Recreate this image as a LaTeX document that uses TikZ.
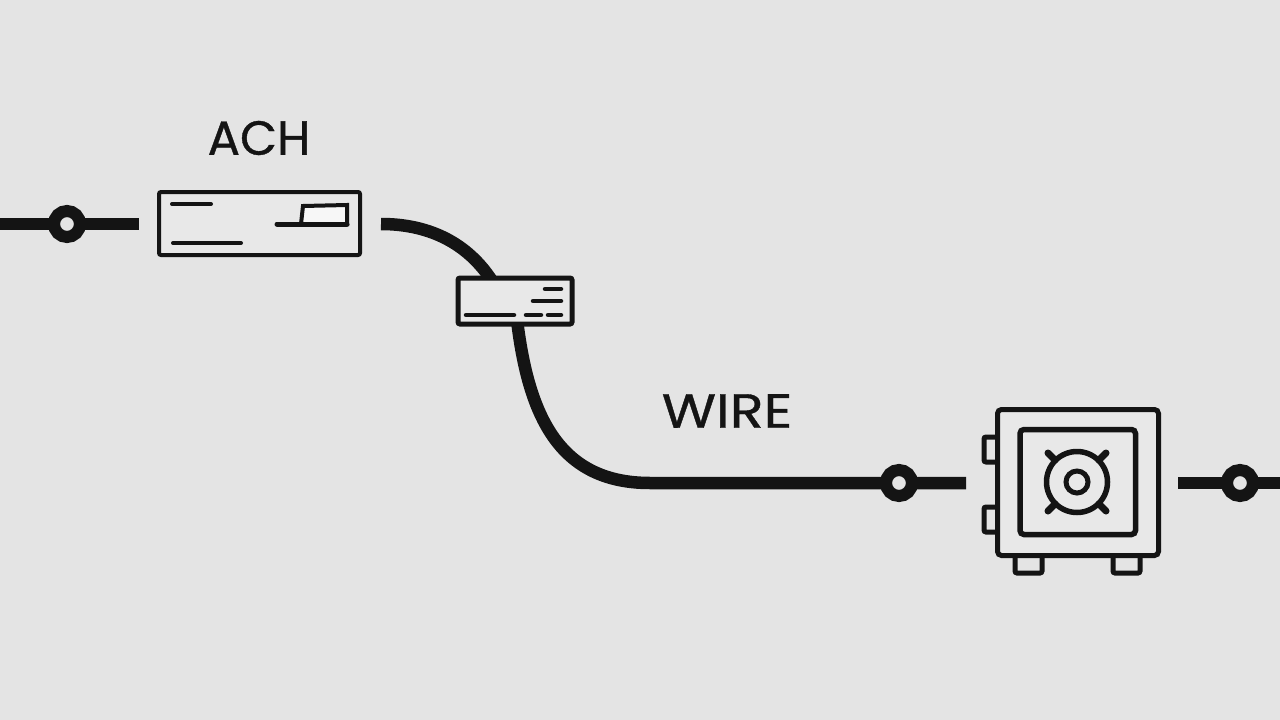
\documentclass[tikz,border=0pt]{standalone}
\usepackage{fontspec}
\setmainfont{Poppins}[FakeBold=0.8]
\newfontfamily\widefont{Poppins}[FakeBold=0.8,FakeStretch=1.16]
\usetikzlibrary{backgrounds}
\definecolor{paper}{HTML}{E4E4E4}
\definecolor{ink}{HTML}{141414}
\tikzset{
    wire/.style={draw=ink,line width=12.5pt},
    station/.style={circle,draw=ink,fill=paper,line width=12pt,minimum size=26pt,inner sep=0pt,outer sep=0pt},
    payslip/.style={rectangle,draw=ink,fill=paper!85!white,rounded corners=2pt,inner sep=0pt,outer sep=0pt},
    detail/.style={draw=ink,line width=4.5pt,line cap=round},
    outline/.style={draw=ink,line width=5pt,rounded corners=4pt},
    lab/.style={text=ink,inner sep=0pt,font=\fontsize{48}{48}\selectfont}
}
\begin{document}
\begin{tikzpicture}[x=1pt,y=-1pt]
    \useasboundingbox (0,0) rectangle (1280,720);

    % The labels
    \node [lab] (achlab) at (259,138) {ACH};
    \node [lab] (wirelab) at (727,411) {\widefont WIRE};

    % The two slips
    \node [payslip,line width=4pt,minimum width=201pt,minimum height=63pt] (achslip) at (259.5,223.5) {};
    \node [payslip,line width=5pt,minimum width=114pt,minimum height=46pt] (wireslip) at (515,301) {};

    % Stations on the line
    \foreach \n/\x/\y in {a/67/224, b/899/483, c/1240/483} {
        \node [station] (st\n) at (\x,\y) {};
    }

    \coordinate (safein) at (966,483);
    \coordinate (safeout) at (1178,483);
    \coordinate (achin) at (139,224);
    \coordinate (achout) at (381,224);
    \coordinate (slipin) at (494,284);
    \coordinate (bend) at (650,483);
    \coordinate (leftend) at (0,224);
    \coordinate (rightend) at (1280,483);

    % The line, piece by piece, under the nodes
    \begin{scope}[on background layer]
        \fill [paper] (0,0) rectangle (1280,720);
        \draw [wire] (leftend) -- (achin);
        \draw [wire] (achout) .. controls (425,224) and (467,240) .. (slipin);
        \draw [wire] (wireslip.center) .. controls (525,410) and (555,483) .. (bend) -- (safein);
        \draw [wire] (safeout) -- (rightend);
    \end{scope}

    % Lines on the large slip
    \draw [detail,line width=4pt] (172,204) -- (211,204);
    \draw [detail,line width=4pt] (173,243) -- (241,243);
    \draw [detail,line width=4pt,fill=paper!30!white,line cap=butt] (301,224) -- (303,206) -- (347,205) -- (347,224) -- cycle;
    \draw [detail,line width=5pt] (277,224) -- (347,224);

    % Lines on the small slip
    \foreach \xa/\xb/\y in {545/561/289, 533/561/301, 466/514/315, 526/541/315, 548/561/315} {
        \draw [detail] (\xa,\y) -- (\xb,\y);
    }

    % The safe, its door and its dial
    \draw [outline,fill=paper!85!white] (997.5,409.5) rectangle (1158.5,555.5);
    \draw [outline,line width=5.5pt] (1020,429.5) rectangle (1135.5,534.5);
    \foreach \sx/\sy in {1/1, 1/-1, -1/1, -1/-1} {
        \draw [draw=ink,line width=7pt,line cap=round] (1077+22*\sx,482+22*\sy) -- (1077+29*\sx,482+29*\sy);
    }
    \draw [draw=ink,line width=5.5pt] (1077,482) circle (30.5);
    \draw [draw=ink,line width=5pt] (1077,482) circle (11);

    % Hinges and feet
    \foreach \y in {437, 507} {
        \draw [outline,rounded corners=2pt] (996,\y) -- (984,\y) -- (984,\y+25) -- (996,\y+25);
    }
    \foreach \x in {1015, 1113} {
        \draw [outline,rounded corners=2pt] (\x,557) -- (\x,573) -- (\x+27,573) -- (\x+27,557);
    }
\end{tikzpicture}
\end{document}
